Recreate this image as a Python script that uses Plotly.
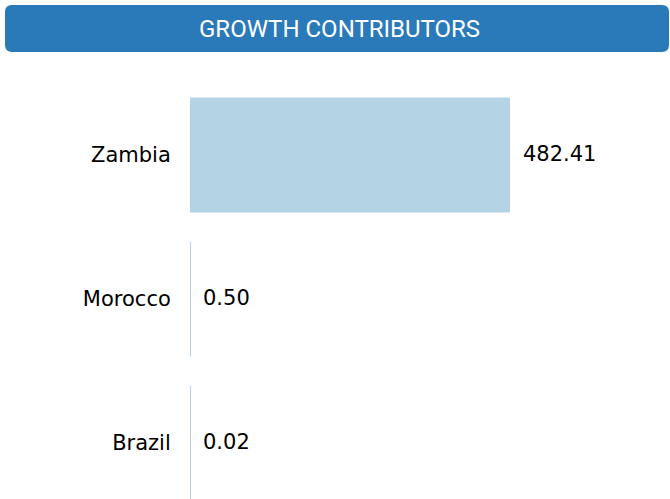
import plotly.graph_objects as go

countries = ["Zambia", "Morocco", "Brazil"]
values = [482.41, 0.50, 0.02]
value_labels = ["482.41", "0.50", "0.02"]

W, H = 670, 499
ml, mr, mt, mb = 190, 0, 83, 0
pw, ph = W - ml - mr, H - mt - mb
slot = 144.0  # pixels per category row
xmax = 482.41 * pw / 320.0

def px_x(p):
    return (p - ml) / pw

def px_y(p):
    return (H - mb - p) / ph

fig = go.Figure(go.Bar(
    x=values, y=countries, orientation="h",
    marker=dict(color="#b4d4e6", line=dict(width=0)),
    width=0.8, hoverinfo="skip",
))

# value labels to the right of each bar
for c, v, t in zip(countries, values, value_labels):
    fig.add_annotation(x=v, y=c, text=t, showarrow=False, xanchor="left",
                       yanchor="middle", xshift=11, yshift=1,
                       font=dict(family="DejaVu Sans", size=21, color="#000"))

# rounded title banner
x0, x1, y0, y1, r = 5, 669, 5, 52, 7
path = (f"M {px_x(x0 + r)},{px_y(y0)} L {px_x(x1 - r)},{px_y(y0)} "
        f"Q {px_x(x1)},{px_y(y0)} {px_x(x1)},{px_y(y0 + r)} "
        f"L {px_x(x1)},{px_y(y1 - r)} Q {px_x(x1)},{px_y(y1)} {px_x(x1 - r)},{px_y(y1)} "
        f"L {px_x(x0 + r)},{px_y(y1)} Q {px_x(x0)},{px_y(y1)} {px_x(x0)},{px_y(y1 - r)} "
        f"L {px_x(x0)},{px_y(y0 + r)} Q {px_x(x0)},{px_y(y0)} {px_x(x0 + r)},{px_y(y0)} Z")
fig.add_shape(type="path", path=path, xref="paper", yref="paper",
              fillcolor="#2a7aba", line=dict(width=0), layer="above")
fig.add_annotation(x=px_x(339), y=px_y(29), xref="paper", yref="paper",
                   xanchor="center", yanchor="middle",
                   text="GROWTH CONTRIBUTORS", showarrow=False,
                   font=dict(family="Roboto", size=24, color="white"))

fig.update_layout(
    width=W, height=H,
    margin=dict(l=ml, r=mr, t=mt, b=mb, pad=0),
    paper_bgcolor="white", plot_bgcolor="white",
    showlegend=False,
    xaxis=dict(range=[0, xmax], visible=False, fixedrange=True),
    yaxis=dict(categoryorder="array", categoryarray=countries,
               range=[-0.5 + ph / slot, -0.5], showgrid=False, zeroline=False,
               showline=False, ticks="outside", ticklen=14, tickcolor="rgba(0,0,0,0)",
               tickfont=dict(family="DejaVu Sans", size=21, color="#000"),
               fixedrange=True),
)

fig.write_html("out.html", config={"displayModeBar": False})
